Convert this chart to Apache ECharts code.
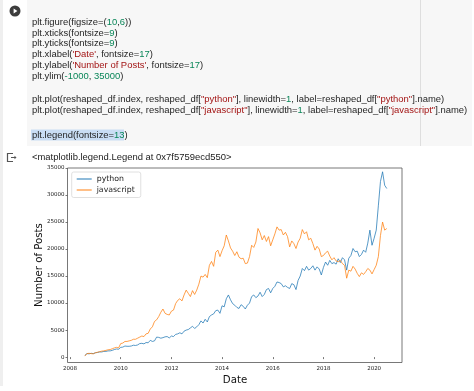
<!DOCTYPE html>
<html>
<head>
<meta charset="utf-8">
<script src="https://cdn.jsdelivr.net/npm/echarts@6/dist/echarts.min.js"></script>
<style>html,body{margin:0;padding:0;background:#fff;}#c{width:474px;height:391px;}</style>
</head>
<body>
<div id="c"></div>
<script>
// ---- data (monthly, starting Aug 2008) ----
const startYear = 2008;
const startMonth = 8;
const seriesNames = ['python', 'javascript'];
const python = [
  300, 650, 600, 700, 650,
  800, 850, 950, 950, 1050, 1050, 1150, 1150, 1250, 1400, 1500, 1450,
  1800, 1850, 2050, 2000, 2000, 2050, 2200, 2150, 2250, 2500, 2550, 2450,
  2700, 2650, 3100, 2900, 3000, 3700, 3650, 3500, 3600, 3750, 3800, 3550,
  3900, 3800, 4200, 4300, 4500, 4300, 4800, 5000, 5100, 5400, 5700, 5300,
  5600, 6000, 6700, 6300, 7000, 6500, 7500, 7800, 8000, 8600, 8700, 8100,
  9500, 9300, 10800, 11500, 10600, 9900, 9600, 9200, 9000, 9700, 9400, 8900,
  9600, 10000, 11200, 11500, 11000, 11300, 12000, 11200, 11600, 12500, 12700, 11900,
  12700, 13100, 13900, 13800, 13600, 13000, 13200, 12900, 12700, 13600, 13400, 12500,
  14200, 15000, 16400, 16000, 16800, 16100, 16400, 16900, 16100, 16700, 16300, 15200,
  16600, 17600, 17000, 17900, 17300, 17500, 17200, 18200, 17500, 18400, 18000, 16100,
  18300, 18800, 20100, 19500, 19600, 18600, 19000, 19800, 19400, 21100, 23500, 20700,
  22000, 23500, 28000, 32500, 34300, 31800, 31200
];
const javascript = [
  200, 650, 700, 650, 600,
  800, 900, 1000, 1100, 1150, 1250, 1350, 1400, 1550, 1700, 1800, 1700,
  2500, 2600, 2900, 2900, 3000, 3100, 3300, 3300, 3500, 3700, 3900, 3800,
  4300, 4400, 5200, 5600, 6600, 6900, 7500, 8300, 8900, 8100, 7900, 7800,
  8500, 8700, 9900, 10500, 10800, 10400, 11500, 12400, 11800, 11200, 12300, 11600,
  12400, 13500, 15000, 14800, 15300, 14700, 17000, 17700, 16800, 19400, 19800, 18600,
  19700, 20600, 22600, 21500, 20200, 19600, 18800, 19500, 18500, 18200, 18300, 17300,
  17400, 18600, 20700, 20300, 21300, 23800, 23000, 21700, 22500, 21400, 22300, 20600,
  21700, 22800, 24100, 23500, 23600, 22600, 23100, 22300, 20400, 21500, 21000, 20100,
  21300, 22000, 23600, 22800, 23200, 21700, 22000, 21000, 19800, 20500, 20000, 18600,
  18800, 19300, 19600, 18700, 18000, 18400, 17800, 17650, 17900, 17300, 17000, 14600,
  16100, 15900, 16800, 16300, 15500, 14900, 15600, 15300, 15800, 16400, 16100, 15400,
  16200, 17000, 18600, 22500, 25000, 23500, 23800
];
const xTicks = [2008, 2010, 2012, 2014, 2016, 2018, 2020];
const yTicks = [0, 5000, 10000, 15000, 20000, 25000, 30000, 35000];

// ---- notebook text ----
const codeLines = [
  [['a','plt.figure(figsize=('],['n','10'],['a',','],['n','6'],['a','))']],
  [['a','plt.xticks(fontsize='],['n','9'],['a',')']],
  [['a','plt.yticks(fontsize='],['n','9'],['a',')']],
  [['a','plt.xlabel('],['s',"'Date'"],['a',', fontsize='],['n','17'],['a',')']],
  [['a','plt.ylabel('],['s',"'Number of Posts'"],['a',', fontsize='],['n','17'],['a',')']],
  [['a','plt.ylim('],['n','-1000'],['a',', '],['n','35000'],['a',')']],
  [['a','plt.plot(reshaped_df.index, reshaped_df['],['s','"python"'],['a','], linewidth='],['n','1'],['a',', label=reshaped_df['],['s','"python"'],['a','].name)']],
  [['a','plt.plot(reshaped_df.index, reshaped_df['],['s','"javascript"'],['a','], linewidth='],['n','1'],['a',', label=reshaped_df['],['s','"javascript"'],['a','].name)']],
  [['a','plt.legend(fontsize='],['n','13'],['a',')']]
];
const codeLineY = [22.7, 33, 43.5, 54.3, 65.3, 76, 99.5, 110.5, 135];
const outputText = '<matplotlib.legend.Legend at 0x7f5759ecd550>';

function toPairs(vals) {
  return vals.map((v, i) => [startYear + (startMonth - 1 + i) / 12, v]);
}

const codeFont = 'Liberation Sans, Arial, sans-serif';
const fs = '9.45px ';
const rich = {
  a: {fill: '#1f1f1f', font: fs + codeFont},
  n: {fill: '#098658', font: fs + codeFont},
  s: {fill: '#a31515', font: fs + codeFont}
};

const graphics = [
  {type: 'rect', shape: {x: 0, y: 0, width: 3, height: 386}, style: {fill: '#efefef'}, silent: true},
  {type: 'rect', shape: {x: 27, y: 0, width: 445, height: 146}, style: {fill: '#f7f7f7'}, silent: true},
  {type: 'line', shape: {x1: 420.5, y1: 0, x2: 420.5, y2: 146}, style: {stroke: '#dedede', lineWidth: 1}, silent: true},
  {type: 'circle', shape: {cx: 15, cy: 11, r: 5.5}, style: {fill: '#3c3c3c'}, silent: true},
  {type: 'polygon', shape: {points: [[13.6, 8.6], [13.6, 13.4], [17.4, 11]]}, style: {fill: '#fff'}, silent: true},
  {type: 'rect', shape: {x: 31, y: 129.5, width: 93, height: 11}, style: {fill: '#c9ddf4'}, silent: true},
  {type: 'polyline', shape: {points: [[13, 153.5], [7.5, 153.5], [7.5, 161.5], [13, 161.5]]}, style: {stroke: '#555', lineWidth: 1.2, fill: null}, silent: true},
  {type: 'polyline', shape: {points: [[11, 157.5], [15.5, 157.5]]}, style: {stroke: '#555', lineWidth: 1}, silent: true},
  {type: 'polygon', shape: {points: [[14.5, 155.8], [14.5, 159.2], [16.5, 157.5]]}, style: {fill: '#555'}, silent: true},
  {type: 'text', x: 32, y: 157, style: {text: outputText, font: fs + codeFont, fill: '#222', textVerticalAlign: 'middle'}, silent: true},
  {type: 'text', x: 39, y: 265, rotation: Math.PI / 2, style: {text: 'Number of Posts', font: '10.2px DejaVu Sans', fill: '#111', textAlign: 'center', textVerticalAlign: 'middle'}, silent: true},
  {type: 'text', x: 235, y: 380, style: {text: 'Date', font: '10.2px DejaVu Sans', fill: '#111', textAlign: 'center', textVerticalAlign: 'middle'}, silent: true}
];
codeLines.forEach((segs, i) => {
  graphics.push({
    type: 'text', x: 32, y: codeLineY[i], silent: true,
    style: {
      text: segs.map(s => '{' + s[0] + '|' + s[1] + '}').join(''),
      rich: rich, textVerticalAlign: 'middle', font: fs + codeFont
    }
  });
});

const chart = echarts.init(document.getElementById('c'), null, {renderer: 'canvas', width: 474, height: 391});
chart.setOption({
  animation: false,
  backgroundColor: '#fff',
  color: ['#1f77b4', '#ff7f0e'],
  grid: {left: 67.5, right: 72, top: 168, bottom: 28.5, show: true, borderColor: '#555', borderWidth: 0.8, backgroundColor: '#fff'},
  xAxis: {
    type: 'value', min: 2007.9, max: 2021.1,
    splitLine: {show: false}, axisLine: {show: false},
    axisTick: {show: true, customValues: xTicks, length: 2, lineStyle: {color: '#555', width: 0.8}},
    axisLabel: {customValues: xTicks, fontSize: 5.5, color: '#222', margin: 3, fontFamily: 'DejaVu Sans', formatter: v => String(v)}
  },
  yAxis: {
    type: 'value', min: -1000, max: 35000,
    splitLine: {show: false}, axisLine: {show: false},
    axisTick: {show: true, customValues: yTicks, length: 2, lineStyle: {color: '#555', width: 0.8}},
    axisLabel: {customValues: yTicks, fontSize: 5.5, color: '#222', margin: 3, fontFamily: 'DejaVu Sans', formatter: v => String(v)}
  },
  legend: {
    orient: 'vertical', left: 71.7, top: 172,
    padding: [2.5, 6, 3, 5], itemGap: 2, itemWidth: 15, itemHeight: 1, icon: 'rect',
    backgroundColor: '#fff', borderColor: '#d8d8d8', borderWidth: 0.8, borderRadius: 2,
    textStyle: {fontSize: 7.8, fontFamily: 'DejaVu Sans', color: '#222', lineHeight: 9},
    data: seriesNames
  },
  series: [
    {name: seriesNames[0], type: 'line', data: toPairs(python), showSymbol: false, lineStyle: {width: 0.75}},
    {name: seriesNames[1], type: 'line', data: toPairs(javascript), showSymbol: false, lineStyle: {width: 0.75}}
  ],
  graphic: graphics
});
</script>
</body>
</html>
